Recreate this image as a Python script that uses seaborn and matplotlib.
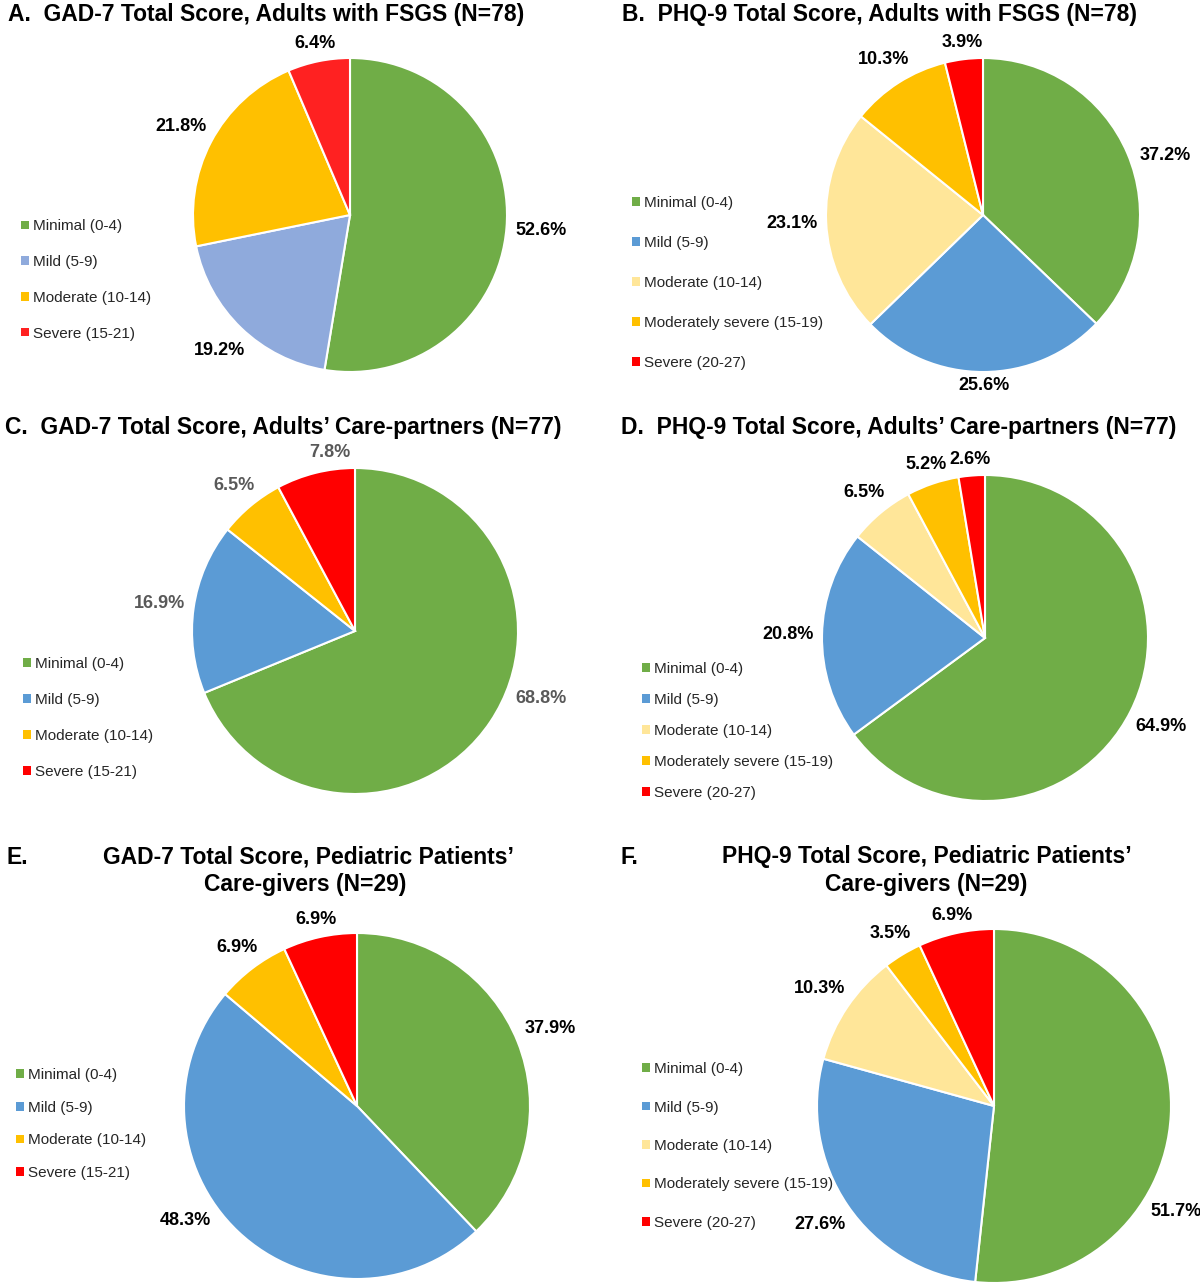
import numpy as np
import seaborn as sns
import matplotlib.pyplot as plt
from matplotlib.patches import Patch

sns.set_style("white")
plt.rcParams['font.family'] = ['Liberation Sans', 'DejaVu Sans']

# categories
gad_labels = ['Minimal (0-4)', 'Mild (5-9)', 'Moderate (10-14)', 'Severe (15-21)']
phq_labels = ['Minimal (0-4)', 'Mild (5-9)', 'Moderate (10-14)',
              'Moderately severe (15-19)', 'Severe (20-27)']

# percentages per panel
a_vals = [52.6, 19.2, 21.8, 6.4]
b_vals = [37.2, 25.6, 23.1, 10.3, 3.9]
c_vals = [68.8, 16.9, 6.5, 7.8]
d_vals = [64.9, 20.8, 6.5, 5.2, 2.6]
e_vals = [37.9, 48.3, 6.9, 6.9]
f_vals = [51.7, 27.6, 10.3, 3.5, 6.9]

green, blue, pale, orange, red = '#70AD47', '#5B9BD5', '#FFE699', '#FFC000', '#FF0000'
gad_colors = [green, blue, orange, red]
gad_colors_a = [green, '#8FAADC', orange, '#FF2121']
phq_colors = [green, blue, pale, orange, red]

W, H = 1200, 1287
fig = plt.figure(figsize=(W / 100, H / 100), dpi=100)


def pie_panel(cx, cy, r, vals, colors, labels, leg_x, leg_cy, spacing,
              pct_color='black', nudge=None):
    ax = fig.add_axes([(cx - r) / W, (H - cy - r) / H, 2 * r / W, 2 * r / H])
    wedges, _ = ax.pie(vals, colors=colors, startangle=90, counterclock=False, radius=1,
                       wedgeprops=dict(edgecolor='white', linewidth=1.5))
    ax.set_xlim(-1, 1)
    ax.set_ylim(-1, 1)
    ax.set_aspect('auto')
    ax.axis('off')
    if nudge is None:
        nudge = [0] * len(vals)
    # percentage labels just outside each wedge
    for w, v, dn in zip(wedges, vals, nudge):
        ang = np.deg2rad((w.theta1 + w.theta2) / 2 + dn)
        txt = f"{v:.1f}%"
        tw = 0.6 * 13 * len(txt)
        off = 5 + tw / 2 * abs(np.cos(ang)) + 5 * abs(np.sin(ang))
        ax.annotate(txt, xy=(np.cos(ang), np.sin(ang)),
                    xytext=(off * np.cos(ang), off * np.sin(ang)), textcoords='offset points',
                    ha='center', va='center', fontsize=13, fontweight='bold', color=pct_color,
                    annotation_clip=False)
    handles = [Patch(facecolor=c, edgecolor='none') for c in colors]
    ax.legend(handles, labels, loc='center left', bbox_to_anchor=(leg_x / W, 1 - leg_cy / H),
              bbox_transform=fig.transFigure, frameon=False, fontsize=11,
              handlelength=0.5, handleheight=0.5, handletextpad=0.3,
              labelspacing=spacing, borderpad=0, borderaxespad=0, labelcolor='#262626')
    return ax


pie_panel(350, 215, 157, a_vals, gad_colors_a, gad_labels, 21, 280, 1.42)
pie_panel(983, 215, 157, b_vals, phq_colors, phq_labels, 632, 283, 1.71, nudge=[-5, 0, 0, 0, 0])
pie_panel(355, 631, 163, c_vals, gad_colors, gad_labels, 23, 718, 1.45, pct_color='#595959',
          nudge=[14, 0, 0, -6])
pie_panel(985, 638, 163, d_vals, phq_colors, phq_labels, 642, 731, 1.12)
pie_panel(357, 1106, 173, e_vals, gad_colors, gad_labels, 16, 1124, 1.23, nudge=[0, -13, 0, 0])
pie_panel(994, 1106, 177, f_vals, phq_colors, phq_labels, 642, 1146, 1.6,
          nudge=[-27, 0, 0, 0, 0])

tkw = dict(fontsize=16.5, fontweight='bold', color='black', va='center')
fig.text(8 / W, 1 - 14 / H, 'A.  GAD-7 Total Score, Adults with FSGS (N=78)', ha='left', **tkw)
fig.text(622 / W, 1 - 14 / H, 'B.  PHQ-9 Total Score, Adults with FSGS (N=78)', ha='left', **tkw)
fig.text(5 / W, 1 - 427 / H, 'C.  GAD-7 Total Score, Adults\u2019 Care-partners (N=77)', ha='left', **tkw)
fig.text(621 / W, 1 - 427 / H, 'D.  PHQ-9 Total Score, Adults\u2019 Care-partners (N=77)', ha='left', **tkw)
fig.text(6 / W, 1 - 857 / H, 'E.', ha='left', **tkw)
fig.text(308 / W, 1 - 857 / H, 'GAD-7 Total Score, Pediatric Patients\u2019', ha='center', **tkw)
fig.text(305 / W, 1 - 885 / H, 'Care-givers (N=29)', ha='center', **tkw)
fig.text(621 / W, 1 - 857 / H, 'F.', ha='left', **tkw)
fig.text(927 / W, 1 - 857 / H, 'PHQ-9 Total Score, Pediatric Patients\u2019', ha='center', **tkw)
fig.text(926 / W, 1 - 885 / H, 'Care-givers (N=29)', ha='center', **tkw)

fig.savefig('out.png', dpi=100)
